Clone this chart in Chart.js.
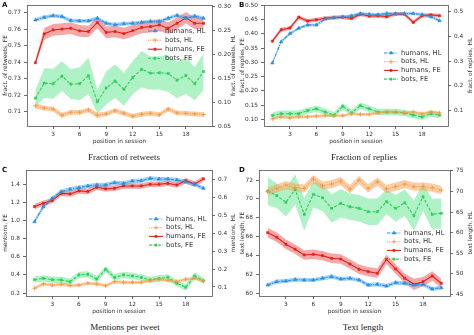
<!DOCTYPE html>
<html>
<head>
<meta charset="utf-8">
<script src="https://cdn.jsdelivr.net/npm/chart.js@4.4.1/dist/chart.umd.min.js"></script>
<style>
    body { margin: 0; background: #fff; width: 474px; height: 335px; position: relative; overflow: hidden; }
    canvas { position: absolute; }
    .caption { position: absolute; font-family: 'Liberation Serif', serif; font-size: 9px; color: #222; transform: translate(-50%, -50%); white-space: nowrap; }
    .letter { position: absolute; font-family: 'DejaVu Sans', sans-serif; font-weight: bold; font-size: 7px; color: #111; }
</style>
</head>
<body>
<canvas id="chartA" width="237" height="145" style="left:0;top:0"></canvas>
<canvas id="chartB" width="237" height="145" style="left:237px;top:0"></canvas>
<canvas id="chartC" width="237" height="150" style="left:0;top:165px"></canvas>
<canvas id="chartD" width="237" height="150" style="left:237px;top:165px"></canvas>

<div class="letter" style="left:2px;top:1px">A</div>
<div class="letter" style="left:239px;top:1px">B</div>
<div class="letter" style="left:2px;top:166px">C</div>
<div class="letter" style="left:239px;top:166px">D</div>

<div class="caption" style="left:124px;top:157px">Fraction of retweets</div>
<div class="caption" style="left:364px;top:157px">Fraction of replies</div>
<div class="caption" style="left:125px;top:327px">Mentions per tweet</div>
<div class="caption" style="left:363px;top:327px">Text length</div>

<script>
// Position of the tweet within the session
const positions = [1, 2, 3, 4, 5, 6, 7, 8, 9, 10, 11, 12, 13, 14, 15, 16, 17, 18, 19, 20];
const xTicks = [3, 6, 9, 12, 15, 18];

// Fraction of retweets
const retweetsHumansHL = [0.272, 0.2775, 0.281, 0.279, 0.2706, 0.270, 0.270, 0.2755, 0.265, 0.262, 0.264, 0.265, 0.267, 0.269, 0.2686, 0.2755, 0.2815, 0.2755, 0.280, 0.2755];
const retweetsHumansHLErr = [0.004, 0.004, 0.004, 0.004, 0.004, 0.004, 0.004, 0.004, 0.004, 0.004, 0.004, 0.004, 0.004, 0.004, 0.004, 0.004, 0.004, 0.004, 0.004, 0.004];
const retweetsBotsHL = [0.0923, 0.0876, 0.0855, 0.0725, 0.0787, 0.0787, 0.0835, 0.0725, 0.0753, 0.0820, 0.0766, 0.0705, 0.0746, 0.0766, 0.0740, 0.0855, 0.0773, 0.0766, 0.0753, 0.0740];
const retweetsBotsHLErr = [0.006, 0.005, 0.005, 0.005, 0.005, 0.005, 0.005, 0.006, 0.005, 0.005, 0.005, 0.005, 0.005, 0.005, 0.005, 0.005, 0.005, 0.005, 0.005, 0.005];
const retweetsHumansFE = [0.7397, 0.7571, 0.7595, 0.7600, 0.7605, 0.7589, 0.7585, 0.7640, 0.7580, 0.7585, 0.7573, 0.7590, 0.7610, 0.7615, 0.7625, 0.7605, 0.7635, 0.7668, 0.7635, 0.7635];
const retweetsHumansFEErr = [0.0015, 0.0035, 0.0035, 0.0035, 0.0035, 0.0035, 0.0035, 0.0035, 0.0035, 0.0035, 0.0035, 0.0035, 0.0035, 0.0035, 0.0035, 0.0035, 0.0035, 0.0035, 0.0035, 0.0035];
const retweetsBotsFE = [0.7183, 0.7274, 0.7270, 0.7316, 0.7268, 0.7270, 0.7318, 0.7161, 0.7245, 0.7286, 0.7237, 0.7308, 0.7357, 0.7334, 0.7336, 0.7332, 0.7292, 0.7320, 0.7270, 0.7344];
const retweetsBotsFEErr = [0.005, 0.009, 0.009, 0.009, 0.009, 0.010, 0.011, 0.007, 0.010, 0.010, 0.010, 0.010, 0.011, 0.010, 0.010, 0.011, 0.011, 0.011, 0.010, 0.011];
const retweetsTicksFE = [0.71, 0.72, 0.73, 0.74, 0.75, 0.76, 0.77];
const retweetsTicksHL = [0.05, 0.10, 0.15, 0.20, 0.25, 0.30];

// Fraction of replies
const repliesHumansHL = [0.293, 0.379, 0.412, 0.434, 0.447, 0.447, 0.471, 0.476, 0.480, 0.484, 0.493, 0.490, 0.489, 0.493, 0.493, 0.493, 0.493, 0.489, 0.480, 0.464];
const repliesHumansHLErr = [0.006, 0.006, 0.006, 0.006, 0.006, 0.006, 0.006, 0.006, 0.006, 0.006, 0.006, 0.006, 0.006, 0.006, 0.006, 0.006, 0.006, 0.006, 0.006, 0.006];
const repliesBotsHL = [0.067, 0.075, 0.071, 0.075, 0.075, 0.078, 0.080, 0.080, 0.080, 0.088, 0.085, 0.085, 0.091, 0.095, 0.095, 0.091, 0.095, 0.088, 0.095, 0.091];
const repliesBotsHLErr = [0.006, 0.006, 0.006, 0.006, 0.006, 0.006, 0.006, 0.006, 0.006, 0.006, 0.006, 0.006, 0.006, 0.006, 0.006, 0.006, 0.006, 0.006, 0.006, 0.006];
const repliesHumansFE = [0.374, 0.414, 0.420, 0.458, 0.445, 0.449, 0.454, 0.457, 0.458, 0.454, 0.468, 0.462, 0.463, 0.460, 0.469, 0.469, 0.440, 0.463, 0.466, 0.463];
const repliesHumansFEErr = [0.007, 0.007, 0.007, 0.007, 0.007, 0.007, 0.007, 0.007, 0.007, 0.007, 0.007, 0.007, 0.007, 0.007, 0.007, 0.007, 0.007, 0.007, 0.007, 0.007];
const repliesBotsFE = [0.114, 0.120, 0.120, 0.120, 0.131, 0.137, 0.126, 0.115, 0.146, 0.123, 0.148, 0.137, 0.126, 0.126, 0.126, 0.123, 0.115, 0.109, 0.120, 0.115];
const repliesBotsFEErr = [0.011, 0.011, 0.011, 0.011, 0.011, 0.011, 0.011, 0.011, 0.011, 0.011, 0.011, 0.011, 0.011, 0.011, 0.011, 0.011, 0.011, 0.011, 0.011, 0.011];
const repliesTicksFE = [0.10, 0.15, 0.20, 0.25, 0.30, 0.35, 0.40, 0.45, 0.50];
const repliesTicksHL = [0.1, 0.2, 0.3, 0.4, 0.5];

// Mentions per tweet
const mentionsHumansHL = [0.466, 0.550, 0.597, 0.634, 0.648, 0.657, 0.666, 0.672, 0.672, 0.685, 0.681, 0.694, 0.696, 0.709, 0.705, 0.705, 0.700, 0.690, 0.675, 0.653];
const mentionsHumansHLErr = [0.012, 0.012, 0.012, 0.012, 0.012, 0.012, 0.012, 0.012, 0.012, 0.012, 0.012, 0.012, 0.012, 0.012, 0.012, 0.012, 0.012, 0.012, 0.012, 0.012];
const mentionsBotsHL = [0.093, 0.117, 0.111, 0.115, 0.109, 0.111, 0.121, 0.117, 0.107, 0.130, 0.126, 0.126, 0.126, 0.137, 0.143, 0.137, 0.130, 0.143, 0.149, 0.134];
const mentionsBotsHLErr = [0.009, 0.009, 0.009, 0.009, 0.009, 0.009, 0.009, 0.009, 0.009, 0.009, 0.009, 0.009, 0.009, 0.009, 0.009, 0.009, 0.009, 0.009, 0.009, 0.009];
const mentionsHumansFE = [1.154, 1.190, 1.220, 1.300, 1.294, 1.327, 1.320, 1.367, 1.350, 1.356, 1.382, 1.382, 1.382, 1.400, 1.400, 1.410, 1.393, 1.440, 1.404, 1.460];
const mentionsHumansFEErr = [0.03, 0.03, 0.03, 0.03, 0.03, 0.03, 0.03, 0.03, 0.03, 0.03, 0.03, 0.03, 0.03, 0.03, 0.03, 0.03, 0.03, 0.03, 0.03, 0.03];
const mentionsBotsFE = [0.347, 0.362, 0.347, 0.344, 0.325, 0.400, 0.406, 0.355, 0.461, 0.373, 0.400, 0.388, 0.373, 0.344, 0.362, 0.373, 0.307, 0.263, 0.388, 0.336];
const mentionsBotsFEErr = [0.035, 0.035, 0.035, 0.035, 0.035, 0.035, 0.035, 0.035, 0.035, 0.035, 0.035, 0.035, 0.035, 0.035, 0.035, 0.035, 0.035, 0.035, 0.035, 0.035];
const mentionsTicksFE = [0.2, 0.4, 0.6, 0.8, 1.0, 1.2, 1.4];
const mentionsTicksHL = [0.1, 0.2, 0.3, 0.4, 0.5, 0.6, 0.7];

// Text length
const textHumansHL = [47.27, 48.08, 48.24, 48.57, 48.48, 48.48, 48.89, 49.30, 48.73, 48.89, 48.48, 47.27, 47.43, 47.03, 47.84, 47.67, 47.27, 47.43, 46.30, 46.62];
const textHumansHLErr = [0.5, 0.5, 0.5, 0.5, 0.5, 0.5, 0.5, 0.5, 0.5, 0.5, 0.5, 0.5, 0.5, 0.5, 0.5, 0.5, 0.5, 0.5, 0.5, 0.5];
const textBotsHL = [69.96, 70.77, 71.58, 70.93, 70.77, 73.04, 71.42, 71.82, 72.55, 70.61, 72.80, 70.77, 72.39, 70.61, 71.18, 71.82, 71.18, 71.18, 70.93, 70.36];
const textBotsHLErr = [1.0, 1.0, 1.0, 1.0, 1.0, 1.0, 1.0, 1.0, 1.0, 1.0, 1.0, 1.0, 1.0, 1.0, 1.0, 1.0, 1.0, 1.0, 1.0, 1.0];
const textHumansFE = [66.42, 65.93, 65.19, 64.66, 64.06, 64.13, 63.99, 63.70, 63.63, 63.10, 62.54, 62.29, 62.12, 63.60, 62.58, 61.59, 60.95, 61.23, 61.83, 61.06];
const textHumansFEErr = [0.5, 0.5, 0.5, 0.5, 0.5, 0.5, 0.5, 0.5, 0.5, 0.5, 0.5, 0.5, 0.5, 0.5, 0.5, 0.5, 0.6, 0.5, 0.5, 0.5];
const textBotsFE = [70.83, 70.34, 69.63, 71.00, 68.36, 70.48, 70.12, 69.00, 69.52, 69.17, 69.00, 68.64, 68.64, 69.70, 69.00, 69.59, 68.22, 70.23, 68.36, 68.47];
const textBotsFEErr = [1.5, 1.3, 1.5, 1.6, 1.7, 1.4, 1.4, 1.5, 1.5, 1.4, 1.4, 1.4, 1.4, 1.3, 1.4, 1.4, 1.6, 1.5, 1.6, 1.6];
const textTicksFE = [60, 62, 64, 66, 68, 70, 72];
const textTicksHL = [45, 50, 55, 60, 65, 70, 75];

// Line, band and marker style for each group
const styles = {
    humansHL: { label: 'humans, HL', color: '#2b8fe2', band: 'rgba(70, 168, 242, 0.5)', dash: [3.5, 1.2, 1, 1.2], point: 'triangle', radius: 2 },
    botsHL: { label: 'bots, HL', color: '#f59a3e', band: 'rgba(246, 168, 96, 0.55)', dash: [1, 1.3], point: 'cross', radius: 2.2 },
    humansFE: { label: 'humans, FE', color: '#e2231c', band: 'rgba(238, 92, 92, 0.55)', dash: [], point: 'rect', radius: 1.5 },
    botsFE: { label: 'bots, FE', color: '#2fd05c', band: 'rgba(96, 230, 142, 0.5)', dash: [3, 1.5], point: 'rect', radius: 1.5 }
};
const legendOrder = ['humansHL', 'botsHL', 'humansFE', 'botsFE'];

Chart.defaults.font.family = "'DejaVu Sans', sans-serif";
Chart.defaults.font.size = 5.8;
Chart.defaults.color = '#333';

// Filled band between value - err and value + err, with the line on top
function seriesDatasets(values, errors, style, axis) {
    const upper = positions.map((p, i) => ({ x: p, y: values[i] + errors[i] }));
    const lower = positions.map((p, i) => ({ x: p, y: values[i] - errors[i] }));
    const line = positions.map((p, i) => ({ x: p, y: values[i] }));
    return [
        { data: upper, yAxisID: axis, borderWidth: 0, pointRadius: 0, fill: false, order: 3 },
        { data: lower, yAxisID: axis, borderWidth: 0, pointRadius: 0, fill: '-1', backgroundColor: style.band, order: 3 },
        {
            data: line, yAxisID: axis, borderColor: style.color, backgroundColor: style.color,
            borderWidth: 1.1, borderDash: style.dash, pointStyle: style.point, pointRadius: style.radius,
            pointBorderWidth: style.point === 'cross' ? 0.9 : 0.6, fill: false, order: 1
        }
    ];
}

// Frame, rotated axis titles and the in-plot legend
const panelDecor = {
    id: 'panelDecor',
    afterDraw(chart, args, opts) {
        const ctx = chart.ctx;
        const a = chart.chartArea;
        ctx.save();
        ctx.strokeStyle = '#555';
        ctx.lineWidth = 0.8;
        ctx.strokeRect(Math.round(a.left) + 0.5, Math.round(a.top) + 0.5, Math.round(a.right - a.left), Math.round(a.bottom - a.top));

        ctx.fillStyle = '#333';
        ctx.font = "5.8px 'DejaVu Sans', sans-serif";
        ctx.textAlign = 'center';
        ctx.textBaseline = 'middle';
        const midY = (a.top + a.bottom) / 2;
        [[opts.titleFE, 5], [opts.titleHL, chart.width - 4]].forEach(([text, x]) => {
            ctx.save();
            ctx.translate(x, midY);
            ctx.rotate(-Math.PI / 2);
            ctx.fillText(text, 0, 0);
            ctx.restore();
        });

        ctx.font = "6.8px 'DejaVu Sans', sans-serif";
        ctx.textAlign = 'left';
        legendOrder.forEach((key, i) => {
            const s = styles[key];
            const y = opts.legendY + i * opts.legendStep;
            const x0 = opts.legendX - 17;
            const x1 = opts.legendX - 3;
            ctx.strokeStyle = s.color;
            ctx.fillStyle = s.color;
            ctx.lineWidth = 1.1;
            ctx.setLineDash(s.dash);
            ctx.beginPath();
            ctx.moveTo(x0, y);
            ctx.lineTo(x1, y);
            ctx.stroke();
            ctx.setLineDash([]);
            ctx.lineWidth = s.point === 'cross' ? 0.9 : 0.6;
            Chart.helpers.drawPoint(ctx, { pointStyle: s.point, radius: s.radius, rotation: 0, borderWidth: ctx.lineWidth }, (x0 + x1) / 2, y);
            ctx.fillStyle = '#333';
            ctx.fillText(s.label, opts.legendX, y);
        });
        ctx.restore();
    }
};

function yAxis(position, range, ticks, digits, width) {
    return {
        type: 'linear',
        position: position,
        min: range[0],
        max: range[1],
        afterBuildTicks: scale => { scale.ticks = ticks.map(v => ({ value: v })); },
        afterFit: scale => { scale.width = width; scale.paddingTop = 0; scale.paddingBottom = 0; },
        ticks: { autoSkip: false, padding: 3, color: '#333', callback: v => v.toFixed(digits) },
        grid: { drawOnChartArea: false, tickLength: 3, color: '#444', lineWidth: 0.8 },
        border: { display: false }
    };
}

function makePanel(id, p) {
    const canvas = document.getElementById(id);
    const datasets = [].concat(
        seriesDatasets(p.humansHL[0], p.humansHL[1], styles.humansHL, 'yR'),
        seriesDatasets(p.botsHL[0], p.botsHL[1], styles.botsHL, 'yR'),
        seriesDatasets(p.humansFE[0], p.humansFE[1], styles.humansFE, 'yL'),
        seriesDatasets(p.botsFE[0], p.botsFE[1], styles.botsFE, 'yL')
    );
    return new Chart(canvas.getContext('2d'), {
        type: 'line',
        data: { datasets: datasets },
        plugins: [panelDecor],
        options: {
            responsive: false,
            animation: false,
            layout: { padding: { top: p.area.top, left: 0, right: 0, bottom: 0 } },
            scales: {
                x: {
                    type: 'linear',
                    min: 0.05,
                    max: 20.95,
                    afterBuildTicks: scale => { scale.ticks = xTicks.map(v => ({ value: v })); },
                    afterFit: scale => { scale.height = canvas.height - p.area.bottom; scale.paddingLeft = 0; scale.paddingRight = 0; },
                    ticks: { autoSkip: false, maxRotation: 0, padding: 2, color: '#333', callback: v => String(v) },
                    grid: { drawOnChartArea: false, tickLength: 3, color: '#444', lineWidth: 0.8 },
                    border: { display: false },
                    title: { display: true, text: 'position in session', color: '#333', font: { size: 5.8 }, padding: { top: 0, bottom: 0 } }
                },
                yL: yAxis('left', p.rangeFE, p.ticksFE, p.digitsFE, p.area.left),
                yR: yAxis('right', p.rangeHL, p.ticksHL, p.digitsHL, canvas.width - p.area.right)
            },
            plugins: {
                legend: { display: false },
                tooltip: { enabled: false },
                panelDecor: { titleFE: p.titleFE, titleHL: p.titleHL, legendX: p.legend[0], legendY: p.legend[1], legendStep: p.legend[2] }
            }
        }
    });
}

makePanel('chartA', {
    humansHL: [retweetsHumansHL, retweetsHumansHLErr], botsHL: [retweetsBotsHL, retweetsBotsHLErr],
    humansFE: [retweetsHumansFE, retweetsHumansFEErr], botsFE: [retweetsBotsFE, retweetsBotsFEErr],
    rangeFE: [0.7015, 0.7746], ticksFE: retweetsTicksFE, digitsFE: 2,
    rangeHL: [0.05, 0.3035], ticksHL: retweetsTicksHL, digitsHL: 2,
    titleFE: 'fract. of retweets, FE', titleHL: 'fract. of retweets, HL',
    area: { left: 27, right: 212, top: 3, bottom: 126 },
    legend: [165, 31, 9.1]
});

makePanel('chartB', {
    humansHL: [repliesHumansHL, repliesHumansHLErr], botsHL: [repliesBotsHL, repliesBotsHLErr],
    humansFE: [repliesHumansFE, repliesHumansFEErr], botsFE: [repliesBotsFE, repliesBotsFEErr],
    rangeFE: [0.077, 0.501], ticksFE: repliesTicksFE, digitsFE: 2,
    rangeHL: [0.038, 0.528], ticksHL: repliesTicksHL, digitsHL: 1,
    titleFE: 'fract. of replies, FE', titleHL: 'fract. of replies, HL',
    area: { left: 27, right: 211, top: 3, bottom: 126 },
    legend: [164, 53, 8.7]
});

makePanel('chartC', {
    humansHL: [mentionsHumansHL, mentionsHumansHLErr], botsHL: [mentionsBotsHL, mentionsBotsHLErr],
    humansFE: [mentionsHumansFE, mentionsHumansFEErr], botsFE: [mentionsBotsFE, mentionsBotsFEErr],
    rangeFE: [0.167, 1.558], ticksFE: mentionsTicksFE, digitsFE: 1,
    rangeHL: [0.0495, 0.756], ticksHL: mentionsTicksHL, digitsHL: 1,
    titleFE: 'mentions, FE', titleHL: 'mentions, HL',
    area: { left: 26, right: 212, top: 5, bottom: 131 },
    legend: [166, 54, 8.7]
});

makePanel('chartD', {
    humansHL: [textHumansHL, textHumansHLErr], botsHL: [textBotsHL, textBotsHLErr],
    humansFE: [textHumansFE, textHumansFEErr], botsFE: [textBotsFE, textBotsFEErr],
    rangeFE: [59.71, 73.06], ticksFE: textTicksFE, digitsFE: 0,
    rangeHL: [44.59, 75.24], ticksHL: textTicksHL, digitsHL: 0,
    titleFE: 'text length, FE', titleHL: 'text length, HL',
    area: { left: 22, right: 213, top: 5, bottom: 131 },
    legend: [167, 68, 8.7]
});
</script>
</body>
</html>
